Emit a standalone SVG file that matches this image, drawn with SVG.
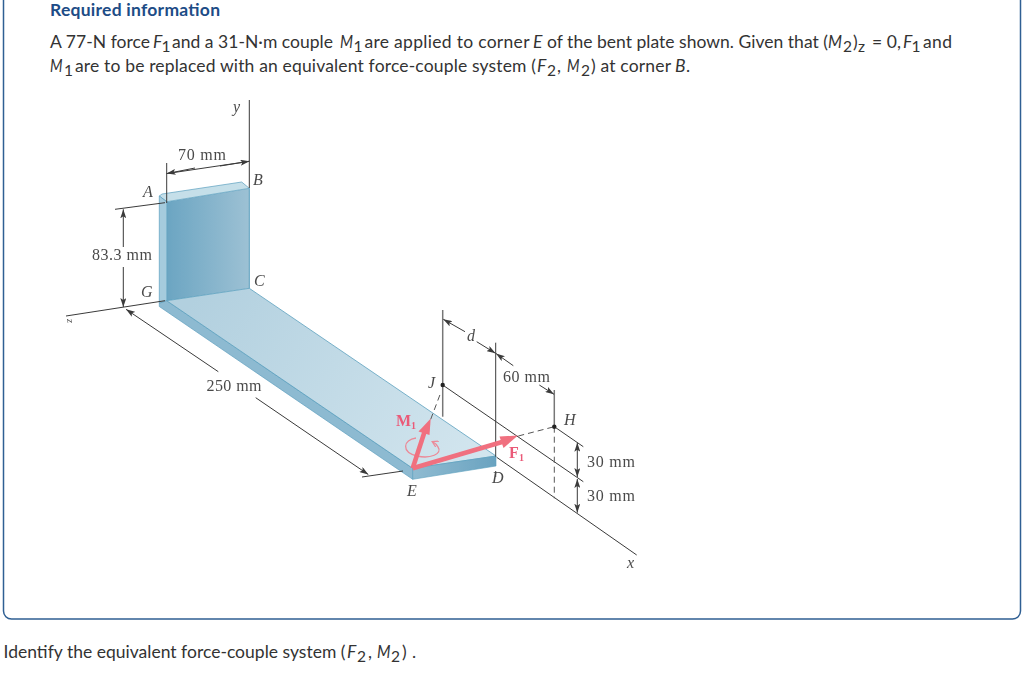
<svg xmlns="http://www.w3.org/2000/svg" width="1024" height="680" viewBox="0 0 1024 680">
<style>
.t{font-family:"Lato","Open Sans",sans-serif;font-size:17.5px;fill:#333}
.u{font-family:"Lato","Open Sans",sans-serif;font-size:15.5px;fill:#333}
.i{font-style:italic}
.h{font-family:"Lato","Open Sans",sans-serif;font-size:17.5px;font-weight:700;fill:#1d4c86}
.d{font-family:"Liberation Serif",serif;font-size:16px;fill:#4a4a4a}
.l{font-family:"Liberation Serif",serif;font-size:16px;font-style:italic;fill:#4a4a4a}
.r{font-family:"Liberation Serif",serif;font-size:16px;font-weight:700;fill:#ea5a78}
.rs{font-family:"Liberation Serif",serif;font-size:10px;font-weight:700;fill:#ea5a78}
.ln{fill:none;stroke:#3a3a3a;stroke-width:1}
.g{fill:none;stroke:#777;stroke-width:1.5}
.da{fill:none;stroke:#555;stroke-width:1;stroke-dasharray:6 4}
.ar{fill:none;stroke:#3a3a3a;stroke-width:1;marker-end:url(#a)}
.b{filter:url(#soft)}
</style>
<defs>
<filter id="soft" x="0" y="0" width="1024" height="680" filterUnits="userSpaceOnUse"><feGaussianBlur stdDeviation="0.4"/></filter>
<marker id="a" markerWidth="10" markerHeight="6" refX="9" refY="3" orient="auto" markerUnits="userSpaceOnUse"><path d="M0 0L9 3L0 6L2 3Z" fill="#3a3a3a"/></marker>
<marker id="p" markerWidth="7" markerHeight="7" refX="5" refY="3.5" orient="auto" markerUnits="userSpaceOnUse"><path d="M0 0L6 3.5L0 7" fill="none" stroke="#ec8a98" stroke-width="1.2"/></marker>
<linearGradient id="wall" x1="0" x2="1" y1="0" y2="0"><stop offset="0" stop-color="#6ba5c2"/><stop offset="1" stop-color="#9dc1d4"/></linearGradient>
<linearGradient id="floor" gradientUnits="userSpaceOnUse" x1="200" y1="290" x2="470" y2="470"><stop offset="0" stop-color="#b2d0df"/><stop offset="1" stop-color="#d2e5ee"/></linearGradient>
<linearGradient id="side" x1="0" x2="1" y1="0" y2="0"><stop offset="0" stop-color="#8fbbd1"/><stop offset="1" stop-color="#6aa3c0"/></linearGradient>
</defs>
<g id="frame"><path d="M3.5 0V611a8 8 0 0 0 8 8H1012.5a8 8 0 0 0 8-8V0" fill="none" stroke="#2f5f93" stroke-width="1.5"/></g>
<g id="question">
<text class="h" x="50" y="16" textLength="170">Required information</text>
<text class="t" x="50" y="47.5" textLength="100">A 77-N force</text>
<text class="t i" x="153" y="47.5">F</text><text class="u" x="161.5" y="51.5">1</text>
<text class="t" x="172" y="47.5" textLength="161">and a 31-N·m couple</text>
<text class="t i" x="340" y="47.5" textLength="13" lengthAdjust="spacingAndGlyphs">M</text><text class="u" x="353.5" y="51.5">1</text>
<text class="t" x="364.5" y="47.5" textLength="165">are applied to corner</text>
<text class="t i" x="533" y="47.5">E</text>
<text class="t" x="547" y="47.5" textLength="281">of the bent plate shown. Given that (</text>
<text class="t i" x="828" y="47.5" textLength="14" lengthAdjust="spacingAndGlyphs">M</text><text class="u" x="843" y="51.5">2</text>
<text class="t" x="853" y="47.5">)</text><text class="u" x="858" y="51.5">z</text>
<text class="t" x="872" y="47.5" textLength="29">= 0,</text>
<text class="t i" x="903" y="47.5">F</text><text class="u" x="911.5" y="51.5">1</text>
<text class="t" x="923" y="47.5" textLength="29">and</text>
<text class="t i" x="50" y="71.5" textLength="12.5" lengthAdjust="spacingAndGlyphs">M</text><text class="u" x="64" y="75.5">1</text>
<text class="t" x="75" y="71.5" textLength="461">are to be replaced with an equivalent force-couple system (</text>
<text class="t i" x="537" y="71.5">F</text><text class="u" x="547" y="75.5">2</text>
<text class="t" x="557" y="71.5">,</text>
<text class="t i" x="567" y="71.5" textLength="12.5" lengthAdjust="spacingAndGlyphs">M</text><text class="u" x="581" y="75.5">2</text>
<text class="t" x="591" y="71.5" textLength="80">) at corner</text>
<text class="t i" x="675" y="71.5">B</text><text class="t" x="686" y="71.5">.</text>
<text class="t" x="3.5" y="658" textLength="342">Identify the equivalent force-couple system (</text>
<text class="t i" x="347" y="658">F</text><text class="u" x="357" y="662">2</text>
<text class="t" x="368" y="658">,</text>
<text class="t i" x="377" y="658" textLength="13.5" lengthAdjust="spacingAndGlyphs">M</text><text class="u" x="391" y="662">2</text>
<text class="t" x="402" y="658">)</text><text class="t" x="412" y="658">.</text>
</g>
<g id="plate" class="b">
<polygon points="166.7,201.7 249.3,188.3 249.3,288.3 166.7,300.7" fill="url(#wall)"/>
<polygon points="159.3,196 162,194 241.7,182 249.3,188.3 166.7,201.7" fill="#c5dfe9" stroke="#5a9fbe" stroke-width=".7"/>
<polygon points="159.3,196 166.7,201.7 166.7,300.7 159.3,303.3" fill="#a5cbdd" stroke="#5a9fbe" stroke-width=".7"/>
<polygon points="159.3,303.3 166.7,300.7 412.7,468.3 412.7,479.3 159.3,306.5" fill="#8dbad1" stroke="#5f9fbe" stroke-width=".7"/>
<polygon points="166.7,300.7 249.3,288.3 496,456 412.7,468.3" fill="url(#floor)" stroke="#5a9fbe" stroke-width=".8"/>
<polygon points="412.7,468.3 496,456 496,466 412.7,479.3" fill="url(#side)" stroke="#5a9fbe" stroke-width=".6"/>
<path d="M249.3 188.3V288.3" stroke="#5a9fbe" fill="none"/>
</g>
<g id="connectors" class="b">
<path class="ln" d="M249.3 100V188M166.7 163V203M115 209.3L165 202.7M66 316L165 300.7"/>
<path class="ar" d="M195 168L166.7 173.6"/><path class="ar" d="M220 166L249.3 161.3"/>
<path d="M166.7 173.6L249.3 161.3" class="ln"/>
<path class="ar" d="M123.3 247V209.3"/><path class="ar" d="M123.3 267V307"/>
<path class="ar" d="M218.3 371.7L126 309.3"/>
<path class="ar" d="M255.7 397.7L368.3 474.5"/>
<path class="ln" d="M362 477L403 471"/>
<path class="g" d="M442.7 310V416.7"/><path class="ln" d="M495.7 342.7V456.7M495.7 471V477"/>
<path class="g" d="M554.3 390V426.7"/>
<path class="ln" d="M442.7 385L583.3 481.7M554.3 426.7L583.3 446.7M496.7 457.3L636.7 555"/>
<path class="da" d="M518.3 436L554.3 426.7M554.3 426.7V498.3M430.7 419.3L441 392"/>
<path class="ar" d="M465 331.7L443.3 319.3"/><path class="ar" d="M476.7 341.7L495.5 353.3"/>
<path class="ar" d="M513.3 365.7L496 353.5"/><path class="ar" d="M539.3 385L554 394.3"/>
<path class="ar" d="M577.3 460V442.7"/><path class="ar" d="M577.3 460V477"/>
<path class="ar" d="M577.3 495V479"/><path class="ar" d="M577.3 495V512.7"/>
<circle cx="442.7" cy="385" r="2.2" fill="#222"/><circle cx="554.3" cy="426.7" r="2.2" fill="#222"/>
</g>
<g id="vectors" class="b">
<path d="M416 438C403 440 401 452 417 456C430 459 443 454 438 447C437 445 435 443 433 442" fill="none" stroke="#ec8a98" stroke-width="1.3" marker-end="url(#p)"/>
<path d="M412.7 468.3L424.5 432" stroke="#f0707f" stroke-width="4.6" fill="none"/>
<polygon points="430.7,418.5 429.5,435 418.5,431.5" fill="#f0707f"/>
<path d="M412.7 468.3L502 442" stroke="#f0707f" stroke-width="4.6" fill="none"/>
<polygon points="518,435.5 503.5,448 499.5,436.5" fill="#f0707f"/>
</g>
<g id="labels" class="b">
<text class="l" x="233" y="112">y</text>
<text class="d" x="178" y="160" textLength="48">70 mm</text>
<text class="l" x="143" y="197">A</text><text class="l" x="253" y="185">B</text>
<text class="l" x="254" y="286">C</text><text class="l" x="141" y="297">G</text>
<text class="d" x="92" y="260" textLength="60">83.3 mm</text>
<text class="l" transform="translate(67 319) rotate(90)" style="font-size:10px">z</text>
<text class="d" x="206.5" y="391" textLength="55">250 mm</text>
<text class="l" x="428" y="388">J</text><text class="l" x="467" y="341">d</text>
<text class="d" x="503" y="382" textLength="47">60 mm</text>
<text class="l" x="564" y="425">H</text><text class="l" x="492" y="483">D</text><text class="l" x="407" y="496">E</text>
<text class="d" x="587" y="467" textLength="48">30 mm</text><text class="d" x="587" y="501" textLength="48">30 mm</text>
<text class="l" x="627" y="568">x</text>
<text class="r" x="396" y="426">M</text><text class="rs" x="411" y="429">1</text>
<text class="r" x="509" y="458">F</text><text class="rs" x="519" y="461">1</text>
</g>
</svg>
